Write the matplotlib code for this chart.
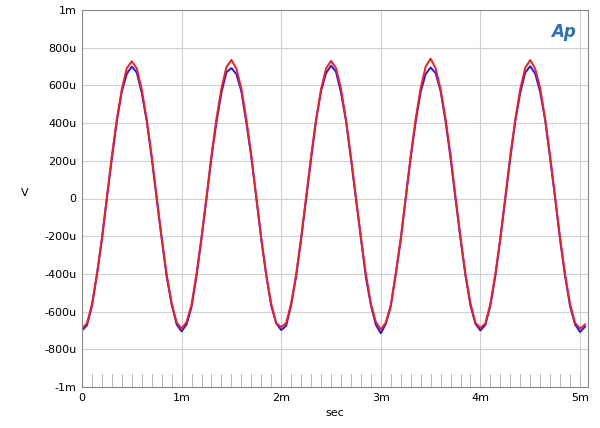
import matplotlib
matplotlib.use("Agg")
import matplotlib.pyplot as plt

# time in ms, 0.05 ms steps
t_ms = [i / 20 for i in range(102)]

blue_uV = [
    -700, -672, -570, -405, -218, 3, 212, 412, 568, 662, 700, 668, 560, 410, 214, -2, -212, -415, -562, -668,
    -705, -668, -575, -408, -212, 0, 218, 405, 562, 670, 692, 660, 568, 402, 218, 3, -218, -410, -570, -662,
    -698, -675, -565, -412, -215, -3, 210, 415, 570, 665, 705, 672, 562, 412, 210, 0, -210, -418, -565, -670,
    -715, -665, -572, -402, -220, 2, 215, 408, 565, 660, 695, 665, 570, 408, 215, -3, -215, -408, -568, -665,
    -700, -670, -568, -410, -214, 0, 214, 410, 562, 668, 702, 662, 565, 415, 212, 2, -220, -412, -572, -668,
    -708, -680,
]
red_uV = [
    -690, -662, -560, -400, -208, 8, 228, 422, 582, 692, 728, 690, 578, 418, 225, 4, -208, -402, -555, -658,
    -690, -655, -562, -398, -204, 10, 230, 425, 585, 698, 735, 688, 582, 420, 228, 6, -210, -405, -560, -662,
    -682, -660, -555, -402, -206, 8, 226, 420, 580, 690, 730, 692, 584, 418, 222, 5, -206, -400, -558, -655,
    -695, -658, -565, -396, -210, 6, 228, 424, 586, 700, 742, 690, 580, 424, 230, 8, -205, -404, -556, -660,
    -686, -662, -558, -400, -208, 10, 230, 420, 582, 694, 735, 688, 585, 420, 225, 6, -210, -402, -560, -660,
    -690, -668,
]

y_ticks = [1000, 800, 600, 400, 200, 0, -200, -400, -600, -800, -1000]
y_labels = ["1m", "800u", "600u", "400u", "200u", "0", "-200u", "-400u", "-600u", "-800u", "-1m"]
x_ticks = [0, 1, 2, 3, 4, 5]
x_labels = ["0", "1m", "2m", "3m", "4m", "5m"]

fig = plt.figure(figsize=(6, 4.28), dpi=100)
ax = fig.add_axes([82 / 600, 41 / 428, 506 / 600, 377 / 428])

ax.plot(t_ms, blue_uV, color="#1a1aff", lw=1.4)
ax.plot(t_ms, red_uV, color="#ff1a1a", lw=1.4)

ax.set_xlim(0, 5.08)
ax.set_ylim(-1000, 1000)
ax.set_xticks(x_ticks)
ax.set_xticklabels(x_labels)
ax.set_yticks(y_ticks)
ax.set_yticklabels(y_labels)
ax.grid(True, color="#d0d0d0", lw=0.8)
ax.tick_params(length=0, labelsize=8, pad=4)
for s in ax.spines.values():
    s.set_color("#888888")

# small minor ticks along the bottom
for i in range(1, 51):
    ax.plot([i / 10, i / 10], [-1000, -930], color="#b8b8b8", lw=0.7)

ax.set_xlabel("sec", fontsize=8)
ax.set_ylabel("V", fontsize=8, rotation=0, labelpad=14)
ax.text(0.975, 0.965, "Ap", transform=ax.transAxes, ha="right", va="top",
        color="#2a6ebb", fontsize=12, style="italic", fontweight="bold")

fig.savefig("out.png", dpi=100)
